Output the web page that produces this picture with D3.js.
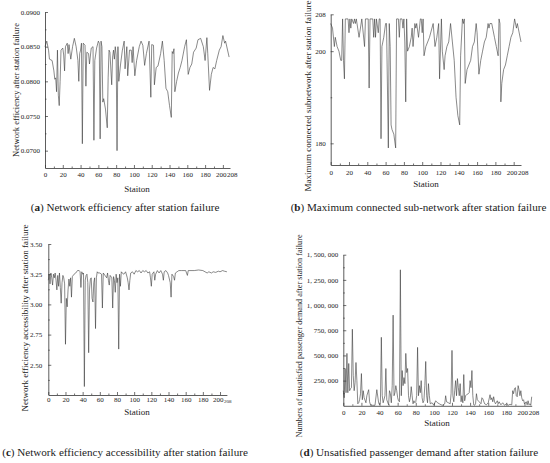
<!DOCTYPE html>
<html>
<head>
<meta charset="utf-8">
<script src="https://cdn.jsdelivr.net/npm/d3@7"></script>
<style>
  body { margin: 0; background: #fff; }
  text { font-family: "Liberation Serif", "DejaVu Serif", serif; fill: #222; }
</style>
</head>
<body>
<div id="graphics"></div>
<script>
var width = 550, height = 463;

// (a) network efficiency, vertices
var effStation = [0,2,4,5,8,10,11,12,13,14,15,16,17,18,20,21,22,23,25,26,27,29,31,33,35,37,38,39,40,41,42,43,45,46,47,49,50,52,54,55,56,58,60,61,62,63,64,65,66,68,70,71,72,73,75,76,77,78,79,80,81,82,83,85,87,89,90,92,93,95,97,98,99,101,103,106,108,110,111,112,114,117,119,120,122,123,125,127,130,132,134,136,138,140,142,143,144,145,146,148,150,152,154,157,159,161,163,165,167,170,172,175,178,180,182,183,185,187,189,191,193,196,198,200,202,203,207];
var effValue = [0.0850,0.0858,0.0845,0.0832,0.0830,0.0815,0.0803,0.0805,0.0785,0.0845,0.0780,0.0765,0.0800,0.0845,0.0848,0.0838,0.0815,0.0850,0.0855,0.0840,0.0853,0.0832,0.0850,0.0862,0.0850,0.0830,0.0800,0.0840,0.0845,0.0855,0.0710,0.0855,0.0852,0.0793,0.0842,0.0840,0.0825,0.0848,0.0850,0.0715,0.0830,0.0848,0.0858,0.0855,0.0717,0.0858,0.0850,0.0770,0.0775,0.0760,0.0733,0.0805,0.0845,0.0842,0.0795,0.0835,0.0845,0.0832,0.0850,0.0838,0.0700,0.0850,0.0800,0.0825,0.0845,0.0858,0.0818,0.0850,0.0808,0.0845,0.0845,0.0827,0.0850,0.0808,0.0830,0.0850,0.0858,0.0852,0.0838,0.0823,0.0840,0.0858,0.0777,0.0853,0.0852,0.0795,0.0820,0.0822,0.0840,0.0858,0.0830,0.0790,0.0785,0.0765,0.0748,0.0843,0.0840,0.0847,0.0785,0.0800,0.0812,0.0820,0.0830,0.0850,0.0860,0.0810,0.0820,0.0825,0.0842,0.0848,0.0860,0.0862,0.0850,0.0830,0.0863,0.0840,0.0787,0.0810,0.0820,0.0818,0.0830,0.0845,0.0850,0.0866,0.0855,0.0858,0.0835];

// (b) maximum connected sub-network
var subStation = [0,2,4,5,7,9,11,12,13,14,15,16,19,20,21,22,23,25,26,27,28,31,34,37,38,41,42,43,46,47,48,49,50,52,53,54,55,56,58,60,61,63,64,65,66,67,69,71,72,74,75,76,78,79,80,81,82,83,84,86,88,89,90,92,93,94,96,98,99,100,101,102,104,108,112,114,116,118,119,121,122,124,125,127,129,131,133,135,137,139,141,142,144,145,146,147,149,151,153,155,157,159,160,162,164,166,168,170,172,173,174,176,179,181,183,184,185,186,187,189,191,193,195,197,199,201,203,204,208];
var subValue = [206,205,201,203,201,200,198,198,207,198,194,207,207,204,207,205,207,206,207,206,207,203,207,201,207,207,192,207,207,203,207,203,207,204,207,207,181,201,203,206,206,179,206,201,184,183,182,179,207,207,203,207,207,205,207,202,189,207,200,201,203,205,201,206,205,206,203,207,207,204,207,199,201,203,206,201,203,206,194,207,200,196,199,201,202,206,202,198,190,186,184,199,207,206,207,193,196,197,198,201,202,206,204,195,198,200,202,203,206,205,206,206,203,201,199,207,206,189,193,196,197,199,201,203,204,207,205,206,202];

// (c) network efficiency accessibility
var accStation = [0,1,2,3,4,5,6,7,8,9,10,11,12,13,14,15,16,17,18,19,20,21,22,23,24,25,26,27,28,30,32,34,36,37,38,39,40,41,42,43,44,45,46,47,48,49,50,51,52,53,54,55,56,57,58,60,62,63,64,66,68,69,70,71,72,74,75,76,77,78,79,80,81,82,83,84,85,86,88,90,92,93,94,95,96,98,100,102,104,106,108,110,112,114,116,118,119,120,121,123,124,125,127,129,131,133,134,135,137,139,140,142,143,144,146,147,148,150,152,155,160,162,163,170,175,180,185,187,190,192,195,198,200,203,205,208];
var accValue = [3.20,3.25,3.17,3.26,3.22,3.16,3.25,3.22,3.26,3.20,3.12,3.24,3.15,3.26,3.14,3.01,3.18,3.24,3.22,3.17,2.67,3.05,2.98,3.12,3.21,3.15,3.22,3.06,3.23,3.25,3.26,3.28,3.28,3.27,3.14,3.27,3.25,3.26,2.32,3.20,3.24,3.25,3.18,2.60,3.12,3.21,3.22,3.05,3.02,3.18,3.22,2.80,3.22,3.27,3.26,3.26,3.25,2.97,3.26,3.24,3.22,3.26,3.20,3.16,3.24,3.22,2.97,3.23,3.20,3.10,3.25,3.18,3.22,2.63,3.25,3.15,3.27,3.26,3.25,3.27,3.22,3.18,3.12,3.20,3.26,3.27,3.25,3.28,3.27,3.28,3.26,3.28,3.27,3.28,3.26,3.27,3.22,3.15,3.25,3.27,3.20,3.25,3.28,3.26,3.28,3.25,3.20,3.27,3.28,3.26,3.24,3.18,3.06,3.25,3.23,3.20,3.26,3.27,3.28,3.28,3.28,3.24,3.28,3.28,3.285,3.28,3.26,3.27,3.26,3.27,3.265,3.275,3.27,3.28,3.275,3.27];

// (d) unsatisfied passenger demand
var demStation = [0,1,2,3,4,5,6,7,8,9,10,11,12,13,14,15,16,17,18,19,20,21,22,23,25,26,28,29,30,32,35,37,39,40,41,42,43,44,46,47,48,50,51,52,53,54,55,56,57,58,59,60,61,62,63,64,65,66,67,68,69,70,71,72,73,74,75,76,77,78,79,80,81,82,83,84,85,86,87,88,89,90,91,92,93,94,95,96,98,100,102,104,106,108,110,112,113,114,116,118,119,120,121,122,123,124,125,126,127,128,129,130,131,132,133,134,135,136,138,139,140,141,142,143,144,145,146,147,148,150,152,153,154,156,158,160,162,163,164,165,166,167,168,170,171,172,174,176,178,180,182,184,186,187,188,189,190,191,192,193,194,195,196,197,198,199,200,202,203,204,205,206,207,208];
var demValue = [150000,80000,370000,130000,520000,130000,420000,150000,170000,180000,760000,300000,150000,230000,430000,250000,20000,30000,60000,120000,320000,60000,150000,80000,30000,100000,160000,40000,10000,5000,5000,160000,30000,10000,40000,680000,100000,30000,100000,370000,60000,10000,150000,120000,30000,200000,900000,100000,130000,200000,150000,80000,50000,40000,1350000,100000,350000,200000,280000,220000,520000,330000,370000,100000,40000,80000,190000,100000,20000,50000,30000,40000,100000,580000,100000,200000,130000,250000,80000,30000,50000,200000,440000,100000,30000,220000,100000,20000,30000,5000,50000,30000,20000,10000,5000,20000,100000,40000,30000,20000,120000,550000,100000,40000,150000,250000,100000,270000,180000,100000,220000,40000,100000,30000,310000,50000,100000,110000,120000,130000,250000,180000,350000,100000,10000,5000,20000,120000,60000,40000,20000,80000,70000,20000,10000,30000,110000,60000,80000,40000,90000,40000,20000,50000,20000,40000,10000,30000,5000,20000,5000,15000,10000,150000,120000,170000,180000,100000,90000,200000,160000,100000,150000,80000,50000,60000,20000,40000,10000,50000,10000,20000,5000,90000];

var effTicks = [0.0700, 0.0750, 0.0800, 0.0850, 0.0900];
var subTicks = [180, 200, 208];
var accTicks = [2.50, 2.75, 3.00, 3.25, 3.50];
var demTicks = [250000, 500000, 750000, 1000000, 1250000, 1500000];
var stationTicks = [0, 20, 40, 60, 80, 100, 120, 140, 160, 180, 200];

var svg = d3.select('#graphics').append('svg')
  .attr('width', width).attr('height', height);

var panels = [
  { s: effStation, v: effValue, left: 45, right: 230, top: 12, bottom: 168,
    domain: [0.0675, 0.09], ticks: effTicks, minor: [0.0725, 0.0775, 0.0825, 0.0875],
    fmt: d3.format('.4f'), labPad: 5, xLabY: 177,
    xTitle: 'Staiton', xTitleX: 137, xTitleY: 192,
    yTitle: 'Network efficiency after station failure', yTitleX: 19, yTitleY: 90, yTitleSize: 8.6,
    caption: ['a', ' Network efficiency after station failure'], capX: 125, capY: 211 },
  { s: subStation, v: subValue, left: 330.7, right: 521, top: 14.3, bottom: 165,
    domain: [175.3, 208], ticks: subTicks, minor: [190],
    fmt: d3.format('d'), labPad: 5, xLabY: 175,
    xTitle: 'Station', xTitleX: 426, xTitleY: 187,
    yTitle: 'Maximum connected subnetwork after station failure', yTitleX: 311, yTitleY: 96, yTitleSize: 9,
    caption: ['b', ' Maximum connected sub-network after station failure'], capX: 418.5, capY: 211 },
  { s: accStation, v: accValue, left: 48.3, right: 226.9, top: 244, bottom: 395,
    domain: [2.25, 3.5], ticks: accTicks, minor: [2.375, 2.625, 2.875, 3.125, 3.375],
    fmt: d3.format('.2f'), labPad: 6, xLabY: 402, small208: true,
    xTitle: 'Station', xTitleX: 137, xTitleY: 415,
    yTitle: 'Network efficiency accessibility after station failure', yTitleX: 28, yTitleY: 318, yTitleSize: 9,
    caption: ['c', ' Network efficiency accessibility after station failure'], capX: 125, capY: 456 },
  { s: demStation, v: demValue, left: 343.3, right: 531.7, top: 254.7, bottom: 405.8,
    domain: [0, 1500000], ticks: demTicks, minor: [125000, 375000, 625000, 875000, 1125000, 1375000],
    fmt: function(d) { return d3.format(',')(d).replace(/,/g, ', '); }, labPad: 5, xLabY: 415,
    xTitle: 'Station', xTitleX: 437, xTitleY: 426,
    yTitle: 'Numbers of unsatisfied passenger demand after station failure', yTitleX: 302, yTitleY: 336, yTitleSize: 8.2,
    caption: ['d', ' Unsatisfied passenger demand after station failure'], capX: 419, capY: 456 }
];

panels.forEach(function(p) {
  var x = d3.scaleLinear().domain([0, 208]).range([p.left, p.right]);
  var y = d3.scaleLinear().domain(p.domain).range([p.bottom, p.top]);
  var g = svg.append('g');

  // x axis, ticks pointing inwards
  var xa = g.append('g').attr('transform', 'translate(0,' + p.bottom + ')')
    .call(d3.axisBottom(x).tickValues(stationTicks).tickSizeInner(-3).tickSizeOuter(0).tickPadding(6));
  g.append('g').attr('transform', 'translate(0,' + p.bottom + ')')
    .call(d3.axisBottom(x).tickValues(d3.range(10, 208, 20)).tickSizeInner(-1.5).tickSizeOuter(0).tickFormat(''))
    .select('.domain').remove();
  xa.selectAll('text').attr('y', p.xLabY - p.bottom).attr('dy', 0);
  g.append('text').attr('x', x(208) - 3).attr('y', p.small208 ? p.xLabY + 1 : p.xLabY)
    .style('font-size', p.small208 ? '5px' : '7px').attr('fill', '#333').text('208');

  // y axis
  g.append('g').attr('transform', 'translate(' + p.left + ',0)')
    .call(d3.axisLeft(y).tickValues(p.ticks).tickFormat(p.fmt).tickSizeInner(-3).tickSizeOuter(0).tickPadding(p.labPad));
  g.append('g').attr('transform', 'translate(' + p.left + ',0)')
    .call(d3.axisLeft(y).tickValues(p.minor).tickSizeInner(-1.5).tickSizeOuter(0).tickFormat(''))
    .select('.domain').remove();

  g.selectAll('.domain').attr('stroke', '#333').attr('stroke-width', 0.8);
  g.selectAll('.tick line').attr('stroke', '#333').attr('stroke-width', 0.7);
  g.selectAll('.tick text').style('font-family', '"Liberation Serif", serif')
    .style('font-size', '7px').attr('fill', '#333');
  xa.selectAll('text').attr('text-anchor', function(d) { return d === 200 ? 'end' : 'middle'; })
    .attr('dx', function(d) { return d === 200 ? '3' : 0; });

  // series
  var pts = p.s.map(function(s, i) { return [s, p.v[i]]; });
  g.append('path').datum(pts)
    .attr('fill', 'none').attr('stroke', '#3a3a3a').attr('stroke-width', 0.6)
    .attr('d', d3.line().x(function(d) { return x(d[0]); }).y(function(d) { return y(d[1]); }));

  // titles
  g.append('text').attr('x', p.xTitleX).attr('y', p.xTitleY).attr('text-anchor', 'middle')
    .style('font-size', '9px').text(p.xTitle);
  g.append('text').attr('transform', 'translate(' + p.yTitleX + ',' + p.yTitleY + ') rotate(-90)')
    .attr('text-anchor', 'middle').style('font-size', p.yTitleSize + 'px').text(p.yTitle);

  var cap = g.append('text').attr('x', p.capX).attr('y', p.capY).attr('text-anchor', 'middle')
    .style('font-size', '11.1px');
  cap.append('tspan').text('(');
  cap.append('tspan').style('font-weight', 'bold').text(p.caption[0]);
  cap.append('tspan').text(')' + p.caption[1]);
});
</script>
</body>
</html>
